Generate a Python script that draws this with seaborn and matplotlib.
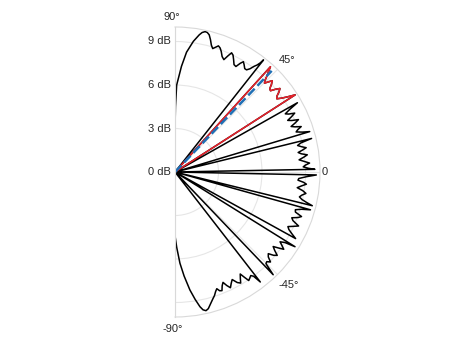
import numpy as np
import pandas as pd
import seaborn as sns
import matplotlib.pyplot as plt
from matplotlib.transforms import offset_copy

# Beam pattern: angle in degrees, level in dB (0 = clipped null)
black_theta = [90, 90, 89.6, 88.9, 86.5, 84.5, 82, 80, 79, 77.9, 77.0, 76.0, 75.0, 74.0, 73.0,
               72.0, 71.0, 70.0, 69.0, 67.8, 66.5, 65.5, 64.6, 63.6, 62.5, 61.2, 60.0, 59.0, 58.2,
               57.2, 56.0, 55.0, 54.0, 53.2, 52.5, 52.0, 51.7, 51.5,
               47.9, 47.8, 47.0, 46.3, 45.5, 44.8, 44.0, 43.2, 42.3, 41.3, 40.4, 39.4, 38.5, 37.6,
               36.6, 35.7, 34.7, 33.7, 32.7, 32.5,
               29.6, 29.5, 28.6, 27.8, 27.0, 26.2, 25.4, 24.6, 23.8, 23.0, 22.2, 21.4, 20.6, 19.8,
               19.0, 18.3, 17.4, 16.7, 16.6,
               13.9, 13.8, 13.0, 12.2, 11.3, 10.5, 9.7, 9.0, 8.2, 7.4, 6.6, 5.6, 4.8, 3.8, 3.0,
               2.3, 1.6, 1.1, 1.0,
               -1.0, -1.2, -2.0, -3.0, -3.8, -4.6, -5.3, -6.2, -7.3, -8.3, -9.3, -10.3, -11.3,
               -12.2, -13.0, -13.8, -14.0,
               -15.4, -15.6, -16.4, -17.4, -18.4, -19.4, -20.3, -21.4, -22.4, -23.6, -24.6, -25.8,
               -26.8, -27.8, -28.9, -29.1,
               -31.7, -31.9, -32.7, -33.6, -34.5, -35.4, -36.3, -37.2, -38.2, -39.2, -40.2, -41.2,
               -42.3, -43.3, -44.3, -45.2, -46.3, -46.5,
               -52.0, -52.2, -53.0, -53.8, -54.8, -55.8, -56.6, -57.4, -58.4, -59.4, -60.6, -62.0,
               -63.2, -64.4, -65.5, -66.5, -67.5, -68.4, -69.4, -70.3, -71.2, -72.3, -73.5, -75.1,
               -76.3, -77.4, -78.5, -79.5, -81.0, -82.8, -85.0, -86.9, -88.7, -89.8, -90, -90]
black_r = [0, 3.0, 4.5, 6.0, 7.3, 8.3, 9.1, 9.6, 9.8, 9.9, 9.88, 9.75, 9.45, 9.1, 8.9,
           9.05, 9.2, 9.1, 8.9, 8.6, 8.45, 8.8, 9.1, 9.0, 8.75, 8.45, 8.4, 8.75, 8.95,
           8.8, 8.6, 8.6, 8.8, 9.1, 9.3, 9.55, 9.85, 0,
           0, 9.8, 9.45, 9.2, 8.85, 8.7, 8.95, 9.2, 9.0, 8.7, 8.65, 9.0, 9.25, 9.05,
           8.75, 8.65, 8.95, 9.35, 9.85, 0,
           0, 9.7, 9.0, 8.6, 8.8, 9.2, 8.9, 8.55, 8.8, 9.25, 8.95, 8.6, 8.85, 9.25,
           8.95, 8.8, 9.2, 9.7, 0,
           0, 9.7, 8.9, 8.65, 8.9, 9.2, 8.9, 8.6, 8.8, 9.2, 8.95, 8.6, 8.9, 9.3, 9.0,
           8.85, 9.2, 9.65, 0,
           0, 9.75, 9.1, 8.55, 8.5, 8.9, 9.1, 8.8, 8.5, 8.9, 9.15, 8.9, 8.75,
           8.95, 9.3, 9.75, 0,
           0, 9.7, 9.1, 8.7, 8.75, 9.25, 9.05, 8.65, 8.8, 9.3, 9.0, 8.65,
           8.8, 9.1, 9.5, 0,
           0, 9.75, 9.0, 8.7, 8.95, 9.2, 8.85, 8.5, 8.75, 9.1, 8.9, 8.55,
           8.7, 9.05, 8.85, 8.9, 9.8, 0,
           0, 9.6, 9.0, 8.85, 8.95, 9.05, 8.7, 8.35, 8.6, 8.9, 8.75, 8.4,
           8.6, 8.85, 8.6, 8.3, 8.5, 8.8, 8.75, 8.55, 8.7, 8.95, 9.15, 9.45,
           9.7, 9.8, 9.7, 9.45, 8.9, 8.2, 7.2, 6.3, 5.2, 4.5, 2.9, 0]

# highlighted lobe and steering direction
red_theta = [47.9, 47.8, 47.0, 46.3, 45.5, 44.8, 44.0, 43.2, 42.3, 41.3, 40.4, 39.4, 38.5,
             37.6, 36.6, 35.7, 34.7, 33.7, 32.7, 32.5]
red_r = [0, 9.8, 9.45, 9.2, 8.85, 8.7, 8.95, 9.2, 9.0, 8.7, 8.65, 9.0, 9.25,
         9.05, 8.75, 8.65, 8.95, 9.35, 9.85, 0]

steer_theta = [46.3, 46.3]
steer_r = [0, 9.65]

theta_ticks = [-90, -45, 0, 45, 90]
theta_labels = ['-90°', '-45°', '0', '45°', '90°']
r_ticks = [0, 3, 6, 9]
r_labels = ['0 dB', '3 dB', '6 dB', '9 dB']

sns.set_style('white')
plt.rcParams['font.family'] = ['Liberation Sans', 'DejaVu Sans']

fig = plt.figure(figsize=(4.74, 3.55), dpi=100)
# half disc sits in the middle of a square box; centre of the disc at (175, 172) px
ax = fig.add_axes([102.5 / 474, 38 / 355, 290 / 474, 290 / 355], projection='polar')
ax.set_thetamin(-90)
ax.set_thetamax(90)
ax.set_rlim(0, 10)

sns.lineplot(x=np.deg2rad(black_theta), y=black_r, ax=ax, sort=False, estimator=None,
             color='black', lw=1.1)
sns.lineplot(x=np.deg2rad(red_theta), y=red_r, ax=ax, sort=False, estimator=None,
             color='#e8202a', lw=1.1)
sns.lineplot(x=np.deg2rad(steer_theta), y=steer_r, ax=ax, sort=False, estimator=None,
             color='#1f6fb4', lw=1.8, linestyle='--')

# Grid and frame in light grey
ax.set_thetagrids(theta_ticks, labels=[''] * len(theta_ticks))
ax.set_rgrids(r_ticks, labels=[''] * len(r_ticks))
ax.grid(color='#e6e6e6', lw=0.8)
for s in ax.spines.values():
    s.set_color('#d9d9d9')
    s.set_linewidth(0.8)

# Angle labels just outside the rim (offsets in pixels)
theta_place = {90: (-3, 5, 'center', 'bottom'), 45: (1, 4, 'left', 'bottom'),
               0: (2, 0, 'left', 'center'), -45: (1, -5, 'left', 'top'),
               -90: (-2, -7, 'center', 'top')}
for t, lab in zip(theta_ticks, theta_labels):
    dx, dy, ha, va = theta_place[t]
    tr = offset_copy(ax.transData, fig=fig, x=dx, y=dy, units='dots')
    ax.text(np.deg2rad(t), 10, lab, transform=tr, ha=ha, va=va, fontsize=8)

# Radial labels along the 90 degree edge
lab_tr = offset_copy(ax.transData, fig=fig, x=-3, y=0, units='points')
for r, lab in zip(r_ticks, r_labels):
    ax.text(np.pi / 2, r, lab, transform=lab_tr, ha='right', va='center', fontsize=8)

fig.savefig('out.png', dpi=100)
